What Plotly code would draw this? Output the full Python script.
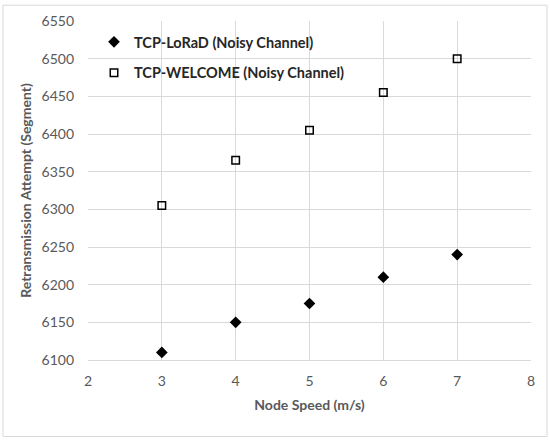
import plotly.graph_objects as go

speeds = [3, 4, 5, 6, 7]
lorad = [6110, 6150, 6175, 6210, 6240]
welcome = [6305, 6365, 6405, 6455, 6500]
name_lorad = "TCP-LoRaD (Noisy Channel)"
name_welcome = "TCP-WELCOME (Noisy Channel)"

FONT = "Lato"
fig = go.Figure()
fig.add_trace(go.Scatter(x=speeds, y=lorad, mode="markers", name=name_lorad,
                         legendgroup="a",
                         marker=dict(symbol="diamond", size=9, color="black",
                                     line=dict(width=0))))
fig.add_trace(go.Scatter(x=speeds, y=welcome, mode="markers", name=name_welcome,
                         legendgroup="b",
                         marker=dict(symbol="square-open", size=7.5, color="black",
                                     line=dict(width=1.5, color="black"))))

L, R, T, B = 88, 19, 17, 82.5
W, H = 550, 443
pw, ph = W - L - R, H - T - B
def px(x): return (x - L) / pw
def py(y): return (H - B - y) / ph

fig.update_layout(
    width=W, height=H,
    margin=dict(l=L, r=R, t=T, b=B, pad=0),
    paper_bgcolor="white", plot_bgcolor="white",
    font=dict(family=FONT, color="#595959", size=14),
    showlegend=True,
    legend=dict(x=px(94), y=py(22), xanchor="left", yanchor="top",
                bgcolor="rgba(0,0,0,0)", tracegroupgap=9,
                font=dict(family=FONT, size=14.5, color="#262626", weight="bold"),
                itemwidth=30),
    xaxis=dict(range=[2, 8], dtick=1, tick0=2, showgrid=True, gridcolor="#d9d9d9",
               gridwidth=1, showline=True, linecolor="#d9d9d9", zeroline=False,
               ticks="", ticklabelstandoff=8, tickfont=dict(size=14, color="#595959"),
               title=dict(text="Node Speed (m/s)", standoff=12,
                          font=dict(size=14, color="#595959", weight="bold"))),
    yaxis=dict(range=[6100, 6550], dtick=50, showgrid=True, gridcolor="#d9d9d9",
               gridwidth=1, showline=False, zeroline=False, ticks="",
               ticklabelstandoff=13, tickfont=dict(size=14, color="#595959"),
               title=dict(text="Retransmission Attempt (Segment)", standoff=6,
                          font=dict(size=14, color="#595959", weight="bold"))),
    shapes=[dict(type="rect", xref="paper", yref="paper",
                 x0=px(3), x1=px(547), y0=py(438), y1=py(1),
                 line=dict(color="#d9d9d9", width=1), layer="below")],
)
fig.write_html("out.html", config={"displayModeBar": False},
               post_script="document.body.style.margin='0';document.body.style.overflow='hidden';")
